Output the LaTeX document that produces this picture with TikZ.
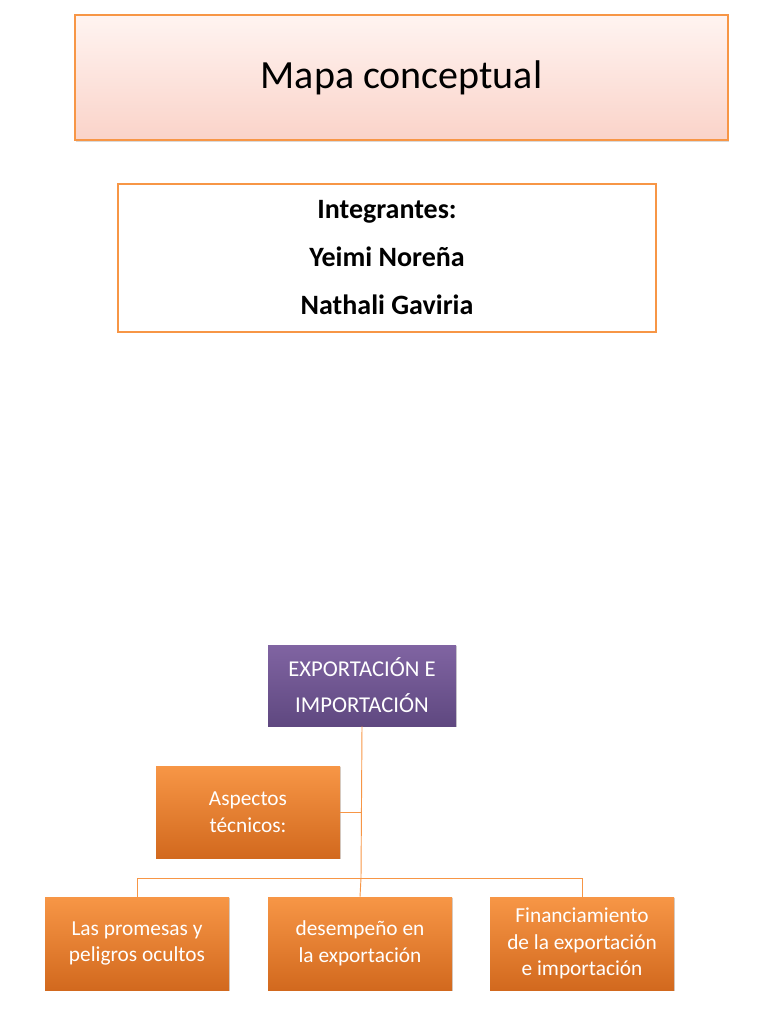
\documentclass[tikz,border=0pt]{standalone}
\usepackage{fontspec}
\setmainfont{Carlito}
\usetikzlibrary{shadows}
\definecolor{org}{HTML}{F79646}
\definecolor{orgd}{HTML}{D2691E}
\definecolor{pur}{HTML}{8064A2}
\definecolor{purd}{HTML}{5F4880}
\definecolor{pinkt}{HTML}{FFF4F1}
\definecolor{pinkb}{HTML}{FAD3C9}
\tikzset{
 obox/.style={draw=none,top color=org,bottom color=orgd,text=white,align=center,font=\fontsize{16}{20}\selectfont,minimum width=184*0.75pt,minimum height=93*0.75pt,inner sep=1pt,drop shadow={opacity=0.35,shadow xshift=1pt,shadow yshift=-1pt}},
 conn/.style={draw=org,line width=0.7pt}
}
\begin{document}
\begin{tikzpicture}[x=0.75pt,y=-0.75pt]
\useasboundingbox (0,0) rectangle (768,1024);
\node[draw=org,line width=0.8pt,top color=pinkt,bottom color=pinkb,minimum width=653*0.75pt,minimum height=125*0.75pt,font=\fontsize{30}{36}\selectfont,drop shadow={opacity=0.3,shadow xshift=1pt,shadow yshift=-1.5pt}] (title) at (401.5,77.5) {Mapa conceptual};
\node[draw=org,line width=0.8pt,fill=white,minimum width=538*0.75pt,minimum height=148*0.75pt,align=center,font=\bfseries\fontsize{21}{36}\selectfont] (int) at (387,258) {Integrantes:\\ Yeimi Noreña\\Nathali Gaviria};
\node[draw=none,top color=pur,bottom color=purd,text=white,align=center,font=\fontsize{17}{27}\selectfont,minimum width=188*0.75pt,minimum height=81*0.75pt,inner sep=1pt,drop shadow={opacity=0.35,shadow xshift=1pt,shadow yshift=-1pt}] (main) at (362,685.5) {EXPORTACIÓN E\\IMPORTACIÓN};
\node[obox,minimum height=92*0.75pt] (asp) at (248,812) {Aspectos\\técnicos:};
\node[obox] (b1) at (137,943.5) {Las promesas y\\peligros ocultos};
\node[obox] (b2) at (360,943.5) {desempeño en\\la exportación};
\node[obox] (b3) at (582,943.5) {Financiamiento\\de la exportación\\e importación};
\coordinate (j) at (361,878);
\coordinate (ja) at (361,812);
\draw[conn] (main.south) -- (j);
\draw[conn] (asp.east) -- (ja);
\draw[conn] (b1.north) |- (j) -| (b3.north);
\draw[conn] (j) -- (b2.north);
\end{tikzpicture}
\end{document}
